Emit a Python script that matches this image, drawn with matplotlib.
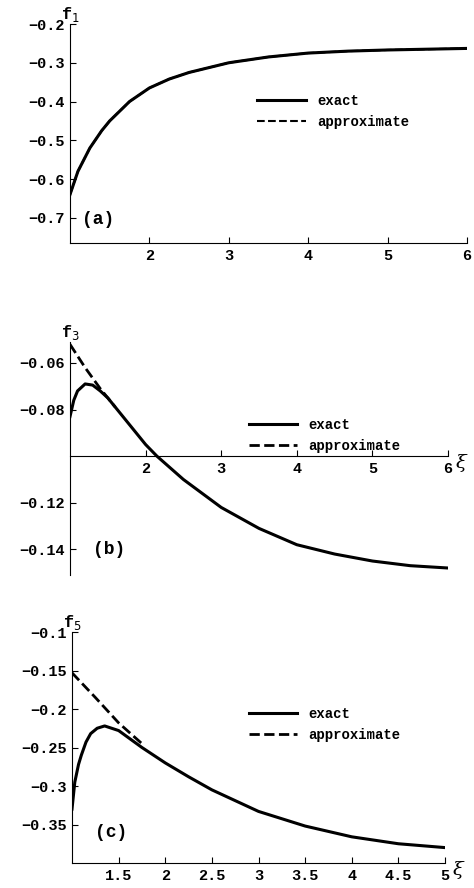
import matplotlib
matplotlib.use("Agg")
import matplotlib.pyplot as plt

xa = [1.0, 1.1, 1.25, 1.4, 1.5, 1.75, 2.0, 2.25, 2.5, 3.0, 3.5, 4.0, 4.5, 5.0, 5.5, 6.0]
fa = [-0.64, -0.58, -0.52, -0.475, -0.45, -0.40, -0.365, -0.342, -0.325, -0.30, -0.285, -0.275, -0.270, -0.267, -0.265, -0.263]

xb = [1.0, 1.05, 1.1, 1.2, 1.3, 1.4, 1.5, 1.75, 2.0, 2.15, 2.5, 3.0, 3.5, 4.0, 4.5, 5.0, 5.5, 6.0]
fb_exact = [-0.083, -0.076, -0.072, -0.069, -0.0695, -0.072, -0.075, -0.085, -0.095, -0.1, -0.11, -0.122, -0.131, -0.138, -0.142, -0.145, -0.147, -0.148]
xb_ap = [1.0, 1.2, 1.4, 1.6]
fb_ap = [-0.052, -0.062, -0.071, -0.079]

xc = [1.0, 1.03, 1.07, 1.1, 1.15, 1.2, 1.27, 1.35, 1.5, 1.75, 2.0, 2.25, 2.5, 3.0, 3.5, 4.0, 4.5, 5.0]
fc_exact = [-0.33, -0.295, -0.272, -0.26, -0.243, -0.232, -0.225, -0.222, -0.228, -0.25, -0.27, -0.288, -0.305, -0.333, -0.352, -0.366, -0.375, -0.38]
xc_ap = [1.0, 1.25, 1.5, 1.75]
fc_ap = [-0.153, -0.185, -0.218, -0.245]

font = dict(family="Liberation Mono", weight="bold")
fig = plt.figure(figsize=(4.74, 8.88), dpi=100)
W, H = 474, 888

def mk(l, r, top, bot):
    return fig.add_axes([l / W, 1 - bot / H, (r - l) / W, (bot - top) / H])

def style(ax, xaxis_y, xlim, ylim, xt, yt, ylab, tag, tagpos):
    ax.set_xlim(*xlim); ax.set_ylim(*ylim)
    for s in ["top", "right"]:
        ax.spines[s].set_visible(False)
    ax.spines["bottom"].set_position(("data", xaxis_y))
    ax.spines["left"].set_position(("data", xlim[0]))
    ax.set_xticks(xt)
    ax.set_xticklabels([("%g" % v) for v in xt], **font, fontsize=11)
    ax.set_yticks(yt)
    ax.set_yticklabels([("%g" % v).replace("-", "\u2212") for v in yt], **font, fontsize=11)
    ax.tick_params(direction="in", length=4, pad=4)
    ax.text(xlim[0], ylim[1], ylab, ha="center", va="bottom", **font, fontsize=12)
    ax.text(1.01, 0, "\u03be", transform=ax.get_yaxis_transform() if False else ax.transData,
            fontsize=14, ha="left", va="center", family="DejaVu Serif", style="italic")
    ax.texts[-1].set_position((xlim[1] + (xlim[1]-xlim[0]) * 0.02, xaxis_y - (ylim[1]-ylim[0]) * 0.03))
    ax.text(tagpos[0], tagpos[1], tag, **font, fontsize=13, ha="left", va="center")
    ax.legend(frameon=False, loc="center left", bbox_to_anchor=(0.44, 0.6),
              prop=dict(family="Liberation Mono", weight="bold", size=10), handlelength=3.5)

ax1 = mk(70, 467, 24, 243)
ax1.plot(xa, fa, "k-", lw=2.2, label="exact")
ax1.plot(xa, fa, "k--", lw=1.5, label="approximate")
style(ax1, -0.765, (1, 6), (-0.765, -0.2), [2, 3, 4, 5, 6], [-0.7, -0.6, -0.5, -0.4, -0.3, -0.2],
      "f$_1$", "(a)", (1.15, -0.705))

ax2 = mk(70, 448, 342, 575)
ax2.plot(xb, fb_exact, "k-", lw=2.2, label="exact")
ax2.plot(xb_ap, fb_ap, "k--", lw=2.0, label="approximate")
style(ax2, -0.1, (1, 6), (-0.151, -0.051), [2, 3, 4, 5, 6], [-0.06, -0.08, -0.12, -0.14],
      "f$_3$", "(b)", (1.3, -0.14))
ax2.set_xlim(1, 6)
ax2.set_position([70 / W, 1 - 575 / H, (448 - 70) / W, (575 - 342) / H])

ax3 = mk(72, 445, 632, 863)
ax3.plot(xc, fc_exact, "k-", lw=2.2, label="exact")
ax3.plot(xc_ap, fc_ap, "k--", lw=2.0, label="approximate")
style(ax3, -0.4, (1, 5), (-0.4, -0.1), [1.5, 2, 2.5, 3, 3.5, 4, 4.5, 5], [-0.1, -0.15, -0.2, -0.25, -0.3, -0.35],
      "f$_5$", "(c)", (1.25, -0.36))

fig.savefig("out.png", dpi=100)
